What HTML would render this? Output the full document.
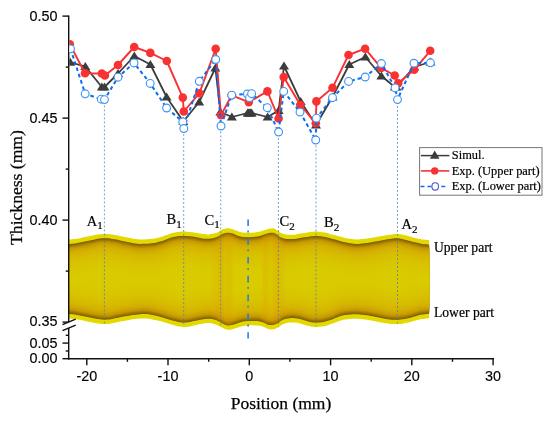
<!DOCTYPE html>
<html><head><meta charset="utf-8"><style>
html,body{margin:0;padding:0;background:#fff;width:550px;height:421px;overflow:hidden}
svg{display:block}
</style></head><body>
<svg width="550" height="421" viewBox="0 0 550 421">
<defs><clipPath id="pc"><rect x="69.3" y="0" width="430" height="358"/></clipPath><clipPath id="tc"><rect x="69.3" y="200" width="360.2" height="150"/></clipPath></defs>
<defs><path id="tt" d="M66.00,239.80 C66.67,239.75 68.50,239.62 70.00,239.50 C71.50,239.38 73.33,239.27 75.00,239.05 C76.67,238.83 78.33,238.52 80.00,238.20 C81.67,237.88 83.33,237.47 85.00,237.10 C86.67,236.73 88.33,236.35 90.00,236.00 C91.67,235.65 93.33,235.30 95.00,235.00 C96.67,234.70 98.50,234.38 100.00,234.20 C101.50,234.02 102.67,233.99 104.00,233.95 C105.33,233.91 106.67,233.86 108.00,233.95 C109.33,234.04 110.67,234.29 112.00,234.50 C113.33,234.71 114.67,234.95 116.00,235.20 C117.33,235.45 118.50,235.68 120.00,236.00 C121.50,236.32 123.33,236.75 125.00,237.10 C126.67,237.45 128.33,237.78 130.00,238.10 C131.67,238.42 133.33,238.77 135.00,239.00 C136.67,239.23 138.33,239.43 140.00,239.50 C141.67,239.57 143.33,239.47 145.00,239.40 C146.67,239.33 148.33,239.25 150.00,239.10 C151.67,238.95 153.33,238.82 155.00,238.50 C156.67,238.18 158.33,237.70 160.00,237.20 C161.67,236.70 163.33,236.08 165.00,235.50 C166.67,234.92 168.33,234.22 170.00,233.70 C171.67,233.18 173.33,232.73 175.00,232.40 C176.67,232.07 178.58,231.85 180.00,231.70 C181.42,231.55 182.33,231.50 183.50,231.50 C184.67,231.50 185.58,231.58 187.00,231.70 C188.42,231.82 190.50,232.00 192.00,232.20 C193.50,232.40 194.67,232.67 196.00,232.90 C197.33,233.13 198.50,233.37 200.00,233.60 C201.50,233.83 203.50,234.17 205.00,234.30 C206.50,234.43 207.50,234.52 209.00,234.40 C210.50,234.28 212.50,233.97 214.00,233.60 C215.50,233.23 216.92,232.70 218.00,232.20 C219.08,231.70 219.67,231.08 220.50,230.60 C221.33,230.12 222.08,229.65 223.00,229.30 C223.92,228.95 225.00,228.65 226.00,228.50 C227.00,228.35 228.00,228.33 229.00,228.40 C230.00,228.47 230.83,228.55 232.00,228.90 C233.17,229.25 234.67,229.97 236.00,230.50 C237.33,231.03 238.50,231.72 240.00,232.10 C241.50,232.48 243.33,232.68 245.00,232.80 C246.67,232.92 248.33,232.87 250.00,232.80 C251.67,232.73 253.33,232.62 255.00,232.40 C256.67,232.18 258.33,231.92 260.00,231.50 C261.67,231.08 263.67,230.33 265.00,229.90 C266.33,229.47 267.00,229.15 268.00,228.90 C269.00,228.65 270.00,228.47 271.00,228.40 C272.00,228.33 273.17,228.32 274.00,228.50 C274.83,228.68 275.33,229.07 276.00,229.50 C276.67,229.93 277.33,230.60 278.00,231.10 C278.67,231.60 279.00,232.02 280.00,232.50 C281.00,232.98 282.67,233.63 284.00,234.00 C285.33,234.37 286.67,234.58 288.00,234.70 C289.33,234.82 290.67,234.75 292.00,234.70 C293.33,234.65 294.67,234.58 296.00,234.40 C297.33,234.22 298.50,233.85 300.00,233.60 C301.50,233.35 303.33,233.17 305.00,232.90 C306.67,232.63 308.17,232.23 310.00,232.00 C311.83,231.77 314.33,231.52 316.00,231.50 C317.67,231.48 318.50,231.72 320.00,231.90 C321.50,232.08 323.33,232.27 325.00,232.60 C326.67,232.93 328.33,233.47 330.00,233.90 C331.67,234.33 333.33,234.75 335.00,235.20 C336.67,235.65 338.33,236.15 340.00,236.60 C341.67,237.05 343.33,237.53 345.00,237.90 C346.67,238.27 348.17,238.53 350.00,238.80 C351.83,239.07 354.33,239.42 356.00,239.50 C357.67,239.58 358.50,239.42 360.00,239.30 C361.50,239.18 363.33,239.00 365.00,238.80 C366.67,238.60 368.33,238.37 370.00,238.10 C371.67,237.83 373.33,237.50 375.00,237.20 C376.67,236.90 378.33,236.60 380.00,236.30 C381.67,236.00 383.33,235.67 385.00,235.40 C386.67,235.13 388.33,234.95 390.00,234.70 C391.67,234.45 393.67,234.03 395.00,233.90 C396.33,233.77 396.83,233.80 398.00,233.90 C399.17,234.00 400.67,234.23 402.00,234.50 C403.33,234.77 404.67,235.15 406.00,235.50 C407.33,235.85 408.50,236.20 410.00,236.60 C411.50,237.00 413.33,237.50 415.00,237.90 C416.67,238.30 418.33,238.68 420.00,239.00 C421.67,239.32 423.45,239.62 425.00,239.80 C426.55,239.98 428.58,240.05 429.30,240.10 L429.3,329.05 L66,329.05 Z"/><path id="bb" d="M66.00,318.30 C66.67,318.32 68.50,318.30 70.00,318.40 C71.50,318.50 73.33,318.67 75.00,318.90 C76.67,319.13 78.33,319.47 80.00,319.80 C81.67,320.13 83.33,320.53 85.00,320.90 C86.67,321.27 88.33,321.67 90.00,322.00 C91.67,322.33 93.33,322.62 95.00,322.90 C96.67,323.18 98.50,323.50 100.00,323.70 C101.50,323.90 102.67,324.05 104.00,324.10 C105.33,324.15 106.67,324.13 108.00,324.00 C109.33,323.87 110.67,323.57 112.00,323.30 C113.33,323.03 114.67,322.68 116.00,322.40 C117.33,322.12 118.50,321.88 120.00,321.60 C121.50,321.32 123.33,321.00 125.00,320.70 C126.67,320.40 128.33,320.07 130.00,319.80 C131.67,319.53 133.33,319.30 135.00,319.10 C136.67,318.90 138.50,318.72 140.00,318.60 C141.50,318.48 142.33,318.35 144.00,318.40 C145.67,318.45 148.17,318.65 150.00,318.90 C151.83,319.15 153.33,319.53 155.00,319.90 C156.67,320.27 158.33,320.65 160.00,321.10 C161.67,321.55 163.33,322.10 165.00,322.60 C166.67,323.10 168.33,323.63 170.00,324.10 C171.67,324.57 173.33,324.98 175.00,325.40 C176.67,325.82 178.50,326.33 180.00,326.60 C181.50,326.87 182.67,326.98 184.00,327.00 C185.33,327.02 186.33,326.95 188.00,326.70 C189.67,326.45 192.00,325.93 194.00,325.50 C196.00,325.07 197.83,324.50 200.00,324.10 C202.17,323.70 205.00,323.22 207.00,323.10 C209.00,322.98 210.50,323.18 212.00,323.40 C213.50,323.62 214.83,323.98 216.00,324.40 C217.17,324.82 218.00,325.37 219.00,325.90 C220.00,326.43 221.00,327.07 222.00,327.60 C223.00,328.13 224.00,328.73 225.00,329.10 C226.00,329.47 226.83,329.75 228.00,329.80 C229.17,329.85 230.67,329.68 232.00,329.40 C233.33,329.12 234.33,328.63 236.00,328.10 C237.67,327.57 240.00,326.65 242.00,326.20 C244.00,325.75 245.83,325.53 248.00,325.40 C250.17,325.27 253.00,325.33 255.00,325.40 C257.00,325.47 258.50,325.52 260.00,325.80 C261.50,326.08 262.67,326.55 264.00,327.10 C265.33,327.65 266.67,328.70 268.00,329.10 C269.33,329.50 270.83,329.52 272.00,329.50 C273.17,329.48 274.00,329.33 275.00,329.00 C276.00,328.67 277.00,328.13 278.00,327.50 C279.00,326.87 279.83,325.88 281.00,325.20 C282.17,324.52 283.50,323.83 285.00,323.40 C286.50,322.97 288.33,322.73 290.00,322.60 C291.67,322.47 293.33,322.45 295.00,322.60 C296.67,322.75 298.33,323.10 300.00,323.50 C301.67,323.90 303.33,324.53 305.00,325.00 C306.67,325.47 308.17,325.97 310.00,326.30 C311.83,326.63 314.00,326.95 316.00,327.00 C318.00,327.05 320.17,326.87 322.00,326.60 C323.83,326.33 325.33,325.87 327.00,325.40 C328.67,324.93 330.50,324.33 332.00,323.80 C333.50,323.27 334.67,322.72 336.00,322.20 C337.33,321.68 338.50,321.15 340.00,320.70 C341.50,320.25 343.33,319.80 345.00,319.50 C346.67,319.20 348.33,319.03 350.00,318.90 C351.67,318.77 353.33,318.70 355.00,318.70 C356.67,318.70 358.33,318.77 360.00,318.90 C361.67,319.03 363.33,319.28 365.00,319.50 C366.67,319.72 368.33,319.92 370.00,320.20 C371.67,320.48 373.33,320.87 375.00,321.20 C376.67,321.53 378.33,321.88 380.00,322.20 C381.67,322.52 383.33,322.83 385.00,323.10 C386.67,323.37 388.33,323.63 390.00,323.80 C391.67,323.97 393.50,324.05 395.00,324.10 C396.50,324.15 397.83,324.17 399.00,324.10 C400.17,324.03 400.67,323.92 402.00,323.70 C403.33,323.48 405.33,323.15 407.00,322.80 C408.67,322.45 410.33,322.05 412.00,321.60 C413.67,321.15 415.33,320.53 417.00,320.10 C418.67,319.67 420.33,319.28 422.00,319.00 C423.67,318.72 425.78,318.53 427.00,318.40 C428.22,318.27 428.92,318.23 429.30,318.20 L429.3,229.05 L66,229.05 Z"/><clipPath id="cu"><rect x="69.3" y="200" width="360.0" height="79.05000000000001"/></clipPath><clipPath id="cl"><rect x="69.3" y="279.05" width="360.0" height="70.94999999999999"/></clipPath></defs>
<g clip-path="url(#cu)"><use href="#tt" fill="#e3d800"/>
<use href="#tt" fill="#7d5f05" transform="translate(0 4.40)"/>
<use href="#tt" fill="#876503" transform="translate(0 4.90)"/>
<use href="#tt" fill="#906c01" transform="translate(0 5.40)"/>
<use href="#tt" fill="#9a7300" transform="translate(0 5.90)"/>
<use href="#tt" fill="#a37a00" transform="translate(0 6.40)"/>
<use href="#tt" fill="#ac8200" transform="translate(0 6.90)"/>
<use href="#tt" fill="#b48900" transform="translate(0 7.40)"/>
<use href="#tt" fill="#bb9100" transform="translate(0 7.90)"/>
<use href="#tt" fill="#c39800" transform="translate(0 8.40)"/>
<use href="#tt" fill="#c69b00" transform="translate(0 8.90)"/>
<use href="#tt" fill="#c89e00" transform="translate(0 9.40)"/>
<use href="#tt" fill="#cda500" transform="translate(0 10.40)"/>
<use href="#tt" fill="#d1aa00" transform="translate(0 11.40)"/>
<use href="#tt" fill="#d2ad00" transform="translate(0 12.40)"/>
<use href="#tt" fill="#d4b100" transform="translate(0 13.40)"/>
<use href="#tt" fill="#d5b400" transform="translate(0 14.40)"/>
<use href="#tt" fill="#d5b600" transform="translate(0 15.40)"/>
<use href="#tt" fill="#d6b800" transform="translate(0 16.40)"/>
<use href="#tt" fill="#d7bc00" transform="translate(0 18.40)"/>
<use href="#tt" fill="#d7bf00" transform="translate(0 20.40)"/>
<use href="#tt" fill="#d7c100" transform="translate(0 22.40)"/>
<use href="#tt" fill="#d8c300" transform="translate(0 24.40)"/>
<use href="#tt" fill="#d8c500" transform="translate(0 26.40)"/>
<use href="#tt" fill="#d8c600" transform="translate(0 28.40)"/>
<use href="#tt" fill="#d8c700" transform="translate(0 30.40)"/>
<use href="#tt" fill="#d9c900" transform="translate(0 32.40)"/>
<use href="#tt" fill="#d9ca00" transform="translate(0 34.40)"/>
<use href="#tt" fill="#d9cb00" transform="translate(0 36.40)"/>
<use href="#tt" fill="#d9cb00" transform="translate(0 38.40)"/>
<use href="#tt" fill="#d9cb00" transform="translate(0 40.40)"/>
<use href="#tt" fill="#d9cb00" transform="translate(0 42.40)"/>
</g>
<g clip-path="url(#cl)"><use href="#bb" fill="#e3d800"/>
<use href="#bb" fill="#7d5f05" transform="translate(0 -4.40)"/>
<use href="#bb" fill="#876503" transform="translate(0 -4.90)"/>
<use href="#bb" fill="#906c01" transform="translate(0 -5.40)"/>
<use href="#bb" fill="#9a7300" transform="translate(0 -5.90)"/>
<use href="#bb" fill="#a37a00" transform="translate(0 -6.40)"/>
<use href="#bb" fill="#ac8200" transform="translate(0 -6.90)"/>
<use href="#bb" fill="#b48900" transform="translate(0 -7.40)"/>
<use href="#bb" fill="#bb9100" transform="translate(0 -7.90)"/>
<use href="#bb" fill="#c39800" transform="translate(0 -8.40)"/>
<use href="#bb" fill="#c69b00" transform="translate(0 -8.90)"/>
<use href="#bb" fill="#c89e00" transform="translate(0 -9.40)"/>
<use href="#bb" fill="#cda500" transform="translate(0 -10.40)"/>
<use href="#bb" fill="#d1aa00" transform="translate(0 -11.40)"/>
<use href="#bb" fill="#d2ad00" transform="translate(0 -12.40)"/>
<use href="#bb" fill="#d4b100" transform="translate(0 -13.40)"/>
<use href="#bb" fill="#d5b400" transform="translate(0 -14.40)"/>
<use href="#bb" fill="#d5b600" transform="translate(0 -15.40)"/>
<use href="#bb" fill="#d6b800" transform="translate(0 -16.40)"/>
<use href="#bb" fill="#d7bc00" transform="translate(0 -18.40)"/>
<use href="#bb" fill="#d7bf00" transform="translate(0 -20.40)"/>
<use href="#bb" fill="#d7c100" transform="translate(0 -22.40)"/>
<use href="#bb" fill="#d8c300" transform="translate(0 -24.40)"/>
<use href="#bb" fill="#d8c500" transform="translate(0 -26.40)"/>
<use href="#bb" fill="#d8c600" transform="translate(0 -28.40)"/>
<use href="#bb" fill="#d8c700" transform="translate(0 -30.40)"/>
<use href="#bb" fill="#d9c900" transform="translate(0 -32.40)"/>
<use href="#bb" fill="#d9ca00" transform="translate(0 -34.40)"/>
<use href="#bb" fill="#d9cb00" transform="translate(0 -36.40)"/>
<use href="#bb" fill="#d9cb00" transform="translate(0 -38.40)"/>
<use href="#bb" fill="#d9cb00" transform="translate(0 -40.40)"/>
<use href="#bb" fill="#d9cb00" transform="translate(0 -42.40)"/>
</g>
<defs><clipPath id="ci"><path d="M66.00,244.20 C66.67,244.15 68.50,244.03 70.00,243.90 C71.50,243.78 73.33,243.67 75.00,243.45 C76.67,243.23 78.33,242.93 80.00,242.60 C81.67,242.27 83.33,241.87 85.00,241.50 C86.67,241.13 88.33,240.75 90.00,240.40 C91.67,240.05 93.33,239.70 95.00,239.40 C96.67,239.10 98.50,238.78 100.00,238.60 C101.50,238.42 102.67,238.39 104.00,238.35 C105.33,238.31 106.67,238.26 108.00,238.35 C109.33,238.44 110.67,238.69 112.00,238.90 C113.33,239.11 114.67,239.35 116.00,239.60 C117.33,239.85 118.50,240.08 120.00,240.40 C121.50,240.72 123.33,241.15 125.00,241.50 C126.67,241.85 128.33,242.18 130.00,242.50 C131.67,242.82 133.33,243.17 135.00,243.40 C136.67,243.63 138.33,243.83 140.00,243.90 C141.67,243.97 143.33,243.87 145.00,243.80 C146.67,243.73 148.33,243.65 150.00,243.50 C151.67,243.35 153.33,243.22 155.00,242.90 C156.67,242.58 158.33,242.10 160.00,241.60 C161.67,241.10 163.33,240.48 165.00,239.90 C166.67,239.32 168.33,238.62 170.00,238.10 C171.67,237.58 173.33,237.13 175.00,236.80 C176.67,236.47 178.58,236.25 180.00,236.10 C181.42,235.95 182.33,235.90 183.50,235.90 C184.67,235.90 185.58,235.98 187.00,236.10 C188.42,236.22 190.50,236.40 192.00,236.60 C193.50,236.80 194.67,237.07 196.00,237.30 C197.33,237.53 198.50,237.77 200.00,238.00 C201.50,238.23 203.50,238.57 205.00,238.70 C206.50,238.83 207.50,238.92 209.00,238.80 C210.50,238.68 212.50,238.37 214.00,238.00 C215.50,237.63 216.92,237.10 218.00,236.60 C219.08,236.10 219.67,235.48 220.50,235.00 C221.33,234.52 222.08,234.05 223.00,233.70 C223.92,233.35 225.00,233.05 226.00,232.90 C227.00,232.75 228.00,232.73 229.00,232.80 C230.00,232.87 230.83,232.95 232.00,233.30 C233.17,233.65 234.67,234.37 236.00,234.90 C237.33,235.43 238.50,236.12 240.00,236.50 C241.50,236.88 243.33,237.08 245.00,237.20 C246.67,237.32 248.33,237.27 250.00,237.20 C251.67,237.13 253.33,237.02 255.00,236.80 C256.67,236.58 258.33,236.32 260.00,235.90 C261.67,235.48 263.67,234.73 265.00,234.30 C266.33,233.87 267.00,233.55 268.00,233.30 C269.00,233.05 270.00,232.87 271.00,232.80 C272.00,232.73 273.17,232.72 274.00,232.90 C274.83,233.08 275.33,233.47 276.00,233.90 C276.67,234.33 277.33,235.00 278.00,235.50 C278.67,236.00 279.00,236.42 280.00,236.90 C281.00,237.38 282.67,238.03 284.00,238.40 C285.33,238.77 286.67,238.98 288.00,239.10 C289.33,239.22 290.67,239.15 292.00,239.10 C293.33,239.05 294.67,238.98 296.00,238.80 C297.33,238.62 298.50,238.25 300.00,238.00 C301.50,237.75 303.33,237.57 305.00,237.30 C306.67,237.03 308.17,236.63 310.00,236.40 C311.83,236.17 314.33,235.92 316.00,235.90 C317.67,235.88 318.50,236.12 320.00,236.30 C321.50,236.48 323.33,236.67 325.00,237.00 C326.67,237.33 328.33,237.87 330.00,238.30 C331.67,238.73 333.33,239.15 335.00,239.60 C336.67,240.05 338.33,240.55 340.00,241.00 C341.67,241.45 343.33,241.93 345.00,242.30 C346.67,242.67 348.17,242.93 350.00,243.20 C351.83,243.47 354.33,243.82 356.00,243.90 C357.67,243.98 358.50,243.82 360.00,243.70 C361.50,243.58 363.33,243.40 365.00,243.20 C366.67,243.00 368.33,242.77 370.00,242.50 C371.67,242.23 373.33,241.90 375.00,241.60 C376.67,241.30 378.33,241.00 380.00,240.70 C381.67,240.40 383.33,240.07 385.00,239.80 C386.67,239.53 388.33,239.35 390.00,239.10 C391.67,238.85 393.67,238.43 395.00,238.30 C396.33,238.17 396.83,238.20 398.00,238.30 C399.17,238.40 400.67,238.63 402.00,238.90 C403.33,239.17 404.67,239.55 406.00,239.90 C407.33,240.25 408.50,240.60 410.00,241.00 C411.50,241.40 413.33,241.90 415.00,242.30 C416.67,242.70 418.33,243.08 420.00,243.40 C421.67,243.72 423.45,244.02 425.00,244.20 C426.55,244.38 428.58,244.45 429.30,244.50 L429.30,313.80 C428.92,313.83 428.22,313.87 427.00,314.00 C425.78,314.13 423.67,314.32 422.00,314.60 C420.33,314.88 418.67,315.27 417.00,315.70 C415.33,316.13 413.67,316.75 412.00,317.20 C410.33,317.65 408.67,318.05 407.00,318.40 C405.33,318.75 403.33,319.08 402.00,319.30 C400.67,319.52 400.17,319.63 399.00,319.70 C397.83,319.77 396.50,319.75 395.00,319.70 C393.50,319.65 391.67,319.57 390.00,319.40 C388.33,319.23 386.67,318.97 385.00,318.70 C383.33,318.43 381.67,318.12 380.00,317.80 C378.33,317.48 376.67,317.13 375.00,316.80 C373.33,316.47 371.67,316.08 370.00,315.80 C368.33,315.52 366.67,315.32 365.00,315.10 C363.33,314.88 361.67,314.63 360.00,314.50 C358.33,314.37 356.67,314.30 355.00,314.30 C353.33,314.30 351.67,314.37 350.00,314.50 C348.33,314.63 346.67,314.80 345.00,315.10 C343.33,315.40 341.50,315.85 340.00,316.30 C338.50,316.75 337.33,317.28 336.00,317.80 C334.67,318.32 333.50,318.87 332.00,319.40 C330.50,319.93 328.67,320.53 327.00,321.00 C325.33,321.47 323.83,321.93 322.00,322.20 C320.17,322.47 318.00,322.65 316.00,322.60 C314.00,322.55 311.83,322.23 310.00,321.90 C308.17,321.57 306.67,321.07 305.00,320.60 C303.33,320.13 301.67,319.50 300.00,319.10 C298.33,318.70 296.67,318.35 295.00,318.20 C293.33,318.05 291.67,318.07 290.00,318.20 C288.33,318.33 286.50,318.57 285.00,319.00 C283.50,319.43 282.17,320.12 281.00,320.80 C279.83,321.48 279.00,322.47 278.00,323.10 C277.00,323.73 276.00,324.27 275.00,324.60 C274.00,324.93 273.17,325.08 272.00,325.10 C270.83,325.12 269.33,325.10 268.00,324.70 C266.67,324.30 265.33,323.25 264.00,322.70 C262.67,322.15 261.50,321.68 260.00,321.40 C258.50,321.12 257.00,321.07 255.00,321.00 C253.00,320.93 250.17,320.87 248.00,321.00 C245.83,321.13 244.00,321.35 242.00,321.80 C240.00,322.25 237.67,323.17 236.00,323.70 C234.33,324.23 233.33,324.72 232.00,325.00 C230.67,325.28 229.17,325.45 228.00,325.40 C226.83,325.35 226.00,325.07 225.00,324.70 C224.00,324.33 223.00,323.73 222.00,323.20 C221.00,322.67 220.00,322.03 219.00,321.50 C218.00,320.97 217.17,320.42 216.00,320.00 C214.83,319.58 213.50,319.22 212.00,319.00 C210.50,318.78 209.00,318.58 207.00,318.70 C205.00,318.82 202.17,319.30 200.00,319.70 C197.83,320.10 196.00,320.67 194.00,321.10 C192.00,321.53 189.67,322.05 188.00,322.30 C186.33,322.55 185.33,322.62 184.00,322.60 C182.67,322.58 181.50,322.47 180.00,322.20 C178.50,321.93 176.67,321.42 175.00,321.00 C173.33,320.58 171.67,320.17 170.00,319.70 C168.33,319.23 166.67,318.70 165.00,318.20 C163.33,317.70 161.67,317.15 160.00,316.70 C158.33,316.25 156.67,315.87 155.00,315.50 C153.33,315.13 151.83,314.75 150.00,314.50 C148.17,314.25 145.67,314.05 144.00,314.00 C142.33,313.95 141.50,314.08 140.00,314.20 C138.50,314.32 136.67,314.50 135.00,314.70 C133.33,314.90 131.67,315.13 130.00,315.40 C128.33,315.67 126.67,316.00 125.00,316.30 C123.33,316.60 121.50,316.92 120.00,317.20 C118.50,317.48 117.33,317.72 116.00,318.00 C114.67,318.28 113.33,318.63 112.00,318.90 C110.67,319.17 109.33,319.47 108.00,319.60 C106.67,319.73 105.33,319.75 104.00,319.70 C102.67,319.65 101.50,319.50 100.00,319.30 C98.50,319.10 96.67,318.78 95.00,318.50 C93.33,318.22 91.67,317.93 90.00,317.60 C88.33,317.27 86.67,316.87 85.00,316.50 C83.33,316.13 81.67,315.73 80.00,315.40 C78.33,315.07 76.67,314.73 75.00,314.50 C73.33,314.27 71.50,314.10 70.00,314.00 C68.50,313.90 66.67,313.92 66.00,313.90 Z"/></clipPath><linearGradient id="bandg" x1="200" x2="300" y1="0" y2="0" gradientUnits="userSpaceOnUse"><stop offset="0.0900" stop-color="#e08a00" stop-opacity="0"/><stop offset="0.1400" stop-color="#e08a00" stop-opacity="0.08"/><stop offset="0.1800" stop-color="#e08a00" stop-opacity="0.2"/><stop offset="0.2050" stop-color="#e08a00" stop-opacity="0.25"/><stop offset="0.2300" stop-color="#e08a00" stop-opacity="0.2"/><stop offset="0.2500" stop-color="#e08a00" stop-opacity="0.1"/><stop offset="0.2700" stop-color="#e08a00" stop-opacity="0.16"/><stop offset="0.2950" stop-color="#e08a00" stop-opacity="0.2"/><stop offset="0.3200" stop-color="#e08a00" stop-opacity="0.1"/><stop offset="0.3500" stop-color="#e08a00" stop-opacity="0"/><stop offset="0.6100" stop-color="#e08a00" stop-opacity="0"/><stop offset="0.6350" stop-color="#e08a00" stop-opacity="0.15"/><stop offset="0.6600" stop-color="#e08a00" stop-opacity="0.2"/><stop offset="0.6850" stop-color="#e08a00" stop-opacity="0.12"/><stop offset="0.7050" stop-color="#e08a00" stop-opacity="0.05"/><stop offset="0.7300" stop-color="#e08a00" stop-opacity="0.15"/><stop offset="0.7550" stop-color="#e08a00" stop-opacity="0.22"/><stop offset="0.7800" stop-color="#e08a00" stop-opacity="0.25"/><stop offset="0.8050" stop-color="#e08a00" stop-opacity="0.18"/><stop offset="0.8400" stop-color="#e08a00" stop-opacity="0.08"/><stop offset="0.8800" stop-color="#e08a00" stop-opacity="0"/></linearGradient></defs>
<rect x="200" y="220" width="100" height="120" fill="url(#bandg)" clip-path="url(#ci)"/>
<line x1="104.4" y1="105.5" x2="104.4" y2="323.4" stroke="#3a7fd0" stroke-opacity="0.78" stroke-width="1.0" stroke-dasharray="1.8 2.2"/>
<line x1="183.7" y1="134" x2="183.7" y2="326.3" stroke="#3a7fd0" stroke-opacity="0.78" stroke-width="1.0" stroke-dasharray="1.8 2.2"/>
<line x1="220.7" y1="131.5" x2="220.7" y2="326.2" stroke="#3a7fd0" stroke-opacity="0.78" stroke-width="1.0" stroke-dasharray="1.8 2.2"/>
<line x1="278.4" y1="138" x2="278.4" y2="326.5" stroke="#3a7fd0" stroke-opacity="0.78" stroke-width="1.0" stroke-dasharray="1.8 2.2"/>
<line x1="316.0" y1="145.5" x2="316.0" y2="326.3" stroke="#3a7fd0" stroke-opacity="0.78" stroke-width="1.0" stroke-dasharray="1.8 2.2"/>
<line x1="397.5" y1="106" x2="397.5" y2="323.4" stroke="#3a7fd0" stroke-opacity="0.78" stroke-width="1.0" stroke-dasharray="1.8 2.2"/>
<line x1="248.1" y1="219.4" x2="248.1" y2="338.4" stroke="#2a7fd8" stroke-width="1.6" stroke-dasharray="6.6 4.6 1.8 5.8"/>
<g stroke="#111" stroke-width="1.4" fill="none">
<line x1="68.7" y1="15.4" x2="68.7" y2="322"/>
<line x1="68.7" y1="328.1" x2="68.7" y2="359.4"/>
<line x1="68.0" y1="358.7" x2="494" y2="358.7"/>
<line x1="62.5" y1="16.1" x2="68.7" y2="16.1"/>
<line x1="62.5" y1="118.1" x2="68.7" y2="118.1"/>
<line x1="62.5" y1="220.1" x2="68.7" y2="220.1"/>
<line x1="62.5" y1="322.1" x2="68.7" y2="322.1"/>
<line x1="62.5" y1="343.1" x2="68.7" y2="343.1"/>
<line x1="62.5" y1="358.7" x2="68.7" y2="358.7"/>
<line x1="65.7" y1="67.1" x2="68.7" y2="67.1"/>
<line x1="65.7" y1="169.1" x2="68.7" y2="169.1"/>
<line x1="65.7" y1="271.1" x2="68.7" y2="271.1"/>
<line x1="65.7" y1="335.3" x2="68.7" y2="335.3"/>
<line x1="65.7" y1="351.0" x2="68.7" y2="351.0"/>
<line x1="86.8" y1="358.7" x2="86.8" y2="365.3"/>
<line x1="168.0" y1="358.7" x2="168.0" y2="365.3"/>
<line x1="249.3" y1="358.7" x2="249.3" y2="365.3"/>
<line x1="330.6" y1="358.7" x2="330.6" y2="365.3"/>
<line x1="411.8" y1="358.7" x2="411.8" y2="365.3"/>
<line x1="493.1" y1="358.7" x2="493.1" y2="365.3"/>
<line x1="127.4" y1="358.7" x2="127.4" y2="361.8"/>
<line x1="208.7" y1="358.7" x2="208.7" y2="361.8"/>
<line x1="289.9" y1="358.7" x2="289.9" y2="361.8"/>
<line x1="371.2" y1="358.7" x2="371.2" y2="361.8"/>
<line x1="452.5" y1="358.7" x2="452.5" y2="361.8"/>
<line x1="62.5" y1="324.6" x2="75.7" y2="319.1"/>
<line x1="62.5" y1="330.7" x2="75.7" y2="325.1"/>
</g>
<g clip-path="url(#pc)">
<polyline points="70.3,62.3 85.3,66.5 101.8,87.0 104.5,87.0 118.0,73.5 134.3,56.0 150.4,64.5 166.6,97.0 183.3,121.5 199.2,102.0 215.4,68.0 220.4,112.0 231.9,117.0 247.6,113.0 248.6,113.0 249.6,113.0 250.6,113.0 251.6,113.0 267.6,117.0 278.6,110.5 284.0,66.0 300.7,101.5 316.0,125.0 332.5,97.0 349.3,64.5 365.4,57.0 381.4,76.0 394.8,87.0 396.5,87.0 414.2,67.0 430.4,62.0" fill="none" stroke="#3c3c3c" stroke-width="1.8" stroke-linejoin="round"/>
<polygon points="70.3,57.7 65.3,65.7 75.3,65.7" fill="#3c3c3c"/>
<polygon points="85.3,61.9 80.3,69.9 90.3,69.9" fill="#3c3c3c"/>
<polygon points="101.8,82.4 96.8,90.4 106.8,90.4" fill="#3c3c3c"/>
<polygon points="104.5,82.4 99.5,90.4 109.5,90.4" fill="#3c3c3c"/>
<polygon points="118.0,68.9 113.0,76.9 123.0,76.9" fill="#3c3c3c"/>
<polygon points="134.3,51.4 129.3,59.4 139.3,59.4" fill="#3c3c3c"/>
<polygon points="150.4,59.9 145.4,67.9 155.4,67.9" fill="#3c3c3c"/>
<polygon points="166.6,92.4 161.6,100.4 171.6,100.4" fill="#3c3c3c"/>
<polygon points="183.3,116.9 178.3,124.9 188.3,124.9" fill="#3c3c3c"/>
<polygon points="199.2,97.4 194.2,105.4 204.2,105.4" fill="#3c3c3c"/>
<polygon points="215.4,63.4 210.4,71.4 220.4,71.4" fill="#3c3c3c"/>
<polygon points="220.4,107.4 215.4,115.4 225.4,115.4" fill="#3c3c3c"/>
<polygon points="231.9,112.4 226.9,120.4 236.9,120.4" fill="#3c3c3c"/>
<polygon points="247.6,108.4 242.6,116.4 252.6,116.4" fill="#3c3c3c"/>
<polygon points="248.6,108.4 243.6,116.4 253.6,116.4" fill="#3c3c3c"/>
<polygon points="249.6,108.4 244.6,116.4 254.6,116.4" fill="#3c3c3c"/>
<polygon points="250.6,108.4 245.6,116.4 255.6,116.4" fill="#3c3c3c"/>
<polygon points="251.6,108.4 246.6,116.4 256.6,116.4" fill="#3c3c3c"/>
<polygon points="267.6,112.4 262.6,120.4 272.6,120.4" fill="#3c3c3c"/>
<polygon points="278.6,105.9 273.6,113.9 283.6,113.9" fill="#3c3c3c"/>
<polygon points="284.0,61.4 279.0,69.4 289.0,69.4" fill="#3c3c3c"/>
<polygon points="300.7,96.9 295.7,104.9 305.7,104.9" fill="#3c3c3c"/>
<polygon points="316.0,120.4 311.0,128.4 321.0,128.4" fill="#3c3c3c"/>
<polygon points="332.5,92.4 327.5,100.4 337.5,100.4" fill="#3c3c3c"/>
<polygon points="349.3,59.9 344.3,67.9 354.3,67.9" fill="#3c3c3c"/>
<polygon points="365.4,52.4 360.4,60.4 370.4,60.4" fill="#3c3c3c"/>
<polygon points="381.4,71.4 376.4,79.4 386.4,79.4" fill="#3c3c3c"/>
<polygon points="394.8,82.4 389.8,90.4 399.8,90.4" fill="#3c3c3c"/>
<polygon points="396.5,82.4 391.5,90.4 401.5,90.4" fill="#3c3c3c"/>
<polygon points="414.2,62.4 409.2,70.4 419.2,70.4" fill="#3c3c3c"/>
<polygon points="430.4,57.4 425.4,65.4 435.4,65.4" fill="#3c3c3c"/>
<polyline points="69.8,44.3 85.0,73.2 101.8,73.5 104.9,75.5 118.0,65.0 134.2,47.0 150.3,52.9 166.8,61.0 182.8,97.6 183.8,111.5 199.3,93.3 215.7,48.8 221.0,115.3 231.7,95.3 248.8,102.1 267.4,91.4 278.6,118.5 283.7,77.1 300.4,105.0 315.8,123.3 316.4,101.4 332.5,87.8 348.5,55.0 365.1,48.7 381.1,67.9 394.7,75.5 398.2,83.2 414.2,69.8 430.2,50.8" fill="none" stroke="#f83232" stroke-width="1.9" stroke-linejoin="round"/>
<circle cx="69.8" cy="44.3" r="4.3" fill="#f83232"/>
<circle cx="85.0" cy="73.2" r="4.3" fill="#f83232"/>
<circle cx="101.8" cy="73.5" r="4.3" fill="#f83232"/>
<circle cx="104.9" cy="75.5" r="4.3" fill="#f83232"/>
<circle cx="118.0" cy="65.0" r="4.3" fill="#f83232"/>
<circle cx="134.2" cy="47.0" r="4.3" fill="#f83232"/>
<circle cx="150.3" cy="52.9" r="4.3" fill="#f83232"/>
<circle cx="166.8" cy="61.0" r="4.3" fill="#f83232"/>
<circle cx="182.8" cy="97.6" r="4.3" fill="#f83232"/>
<circle cx="183.8" cy="111.5" r="4.3" fill="#f83232"/>
<circle cx="199.3" cy="93.3" r="4.3" fill="#f83232"/>
<circle cx="215.7" cy="48.8" r="4.3" fill="#f83232"/>
<circle cx="221.0" cy="115.3" r="4.3" fill="#f83232"/>
<circle cx="231.7" cy="95.3" r="4.3" fill="#f83232"/>
<circle cx="248.8" cy="102.1" r="4.3" fill="#f83232"/>
<circle cx="267.4" cy="91.4" r="4.3" fill="#f83232"/>
<circle cx="278.6" cy="118.5" r="4.3" fill="#f83232"/>
<circle cx="283.7" cy="77.1" r="4.3" fill="#f83232"/>
<circle cx="300.4" cy="105.0" r="4.3" fill="#f83232"/>
<circle cx="315.8" cy="123.3" r="4.3" fill="#f83232"/>
<circle cx="316.4" cy="101.4" r="4.3" fill="#f83232"/>
<circle cx="332.5" cy="87.8" r="4.3" fill="#f83232"/>
<circle cx="348.5" cy="55.0" r="4.3" fill="#f83232"/>
<circle cx="365.1" cy="48.7" r="4.3" fill="#f83232"/>
<circle cx="381.1" cy="67.9" r="4.3" fill="#f83232"/>
<circle cx="394.7" cy="75.5" r="4.3" fill="#f83232"/>
<circle cx="398.2" cy="83.2" r="4.3" fill="#f83232"/>
<circle cx="414.2" cy="69.8" r="4.3" fill="#f83232"/>
<circle cx="430.2" cy="50.8" r="4.3" fill="#f83232"/>
<polyline points="70.5,48.8 85.2,93.8 101.3,99.2 104.5,99.6 118.0,77.2 134.0,62.9 150.2,83.4 166.6,108.0 182.8,121.9 183.8,128.5 199.3,81.3 215.7,59.5 221.0,126.0 231.7,95.1 247.4,94.0 249.5,97.7 251.6,93.7 267.3,107.7 278.6,132.0 283.7,91.4 300.0,112.1 315.7,140.0 316.4,118.2 332.5,97.7 348.6,81.4 365.2,77.0 381.4,63.6 395.1,87.9 397.5,99.6 414.0,63.2 430.4,62.8" fill="none" stroke="#0a6cf0" stroke-width="2" stroke-dasharray="3.6 3" stroke-linejoin="round"/>
<circle cx="70.5" cy="48.8" r="3.9" fill="#fff" stroke="#3d95f5" stroke-width="1.15"/>
<circle cx="85.2" cy="93.8" r="3.9" fill="#fff" stroke="#3d95f5" stroke-width="1.15"/>
<circle cx="101.3" cy="99.2" r="3.9" fill="#fff" stroke="#3d95f5" stroke-width="1.15"/>
<circle cx="104.5" cy="99.6" r="3.9" fill="#fff" stroke="#3d95f5" stroke-width="1.15"/>
<circle cx="118.0" cy="77.2" r="3.9" fill="#fff" stroke="#3d95f5" stroke-width="1.15"/>
<circle cx="134.0" cy="62.9" r="3.9" fill="#fff" stroke="#3d95f5" stroke-width="1.15"/>
<circle cx="150.2" cy="83.4" r="3.9" fill="#fff" stroke="#3d95f5" stroke-width="1.15"/>
<circle cx="166.6" cy="108.0" r="3.9" fill="#fff" stroke="#3d95f5" stroke-width="1.15"/>
<circle cx="182.8" cy="121.9" r="3.9" fill="#fff" stroke="#3d95f5" stroke-width="1.15"/>
<circle cx="183.8" cy="128.5" r="3.9" fill="#fff" stroke="#3d95f5" stroke-width="1.15"/>
<circle cx="199.3" cy="81.3" r="3.9" fill="#fff" stroke="#3d95f5" stroke-width="1.15"/>
<circle cx="215.7" cy="59.5" r="3.9" fill="#fff" stroke="#3d95f5" stroke-width="1.15"/>
<circle cx="221.0" cy="126.0" r="3.9" fill="#fff" stroke="#3d95f5" stroke-width="1.15"/>
<circle cx="231.7" cy="95.1" r="3.9" fill="#fff" stroke="#3d95f5" stroke-width="1.15"/>
<circle cx="247.4" cy="94.0" r="3.9" fill="#fff" stroke="#3d95f5" stroke-width="1.15"/>
<circle cx="249.5" cy="97.7" r="3.9" fill="#fff" stroke="#3d95f5" stroke-width="1.15"/>
<circle cx="251.6" cy="93.7" r="3.9" fill="#fff" stroke="#3d95f5" stroke-width="1.15"/>
<circle cx="267.3" cy="107.7" r="3.9" fill="#fff" stroke="#3d95f5" stroke-width="1.15"/>
<circle cx="278.6" cy="132.0" r="3.9" fill="#fff" stroke="#3d95f5" stroke-width="1.15"/>
<circle cx="283.7" cy="91.4" r="3.9" fill="#fff" stroke="#3d95f5" stroke-width="1.15"/>
<circle cx="300.0" cy="112.1" r="3.9" fill="#fff" stroke="#3d95f5" stroke-width="1.15"/>
<circle cx="315.7" cy="140.0" r="3.9" fill="#fff" stroke="#3d95f5" stroke-width="1.15"/>
<circle cx="316.4" cy="118.2" r="3.9" fill="#fff" stroke="#3d95f5" stroke-width="1.15"/>
<circle cx="332.5" cy="97.7" r="3.9" fill="#fff" stroke="#3d95f5" stroke-width="1.15"/>
<circle cx="348.6" cy="81.4" r="3.9" fill="#fff" stroke="#3d95f5" stroke-width="1.15"/>
<circle cx="365.2" cy="77.0" r="3.9" fill="#fff" stroke="#3d95f5" stroke-width="1.15"/>
<circle cx="381.4" cy="63.6" r="3.9" fill="#fff" stroke="#3d95f5" stroke-width="1.15"/>
<circle cx="395.1" cy="87.9" r="3.9" fill="#fff" stroke="#3d95f5" stroke-width="1.15"/>
<circle cx="397.5" cy="99.6" r="3.9" fill="#fff" stroke="#3d95f5" stroke-width="1.15"/>
<circle cx="414.0" cy="63.2" r="3.9" fill="#fff" stroke="#3d95f5" stroke-width="1.15"/>
<circle cx="430.4" cy="62.8" r="3.9" fill="#fff" stroke="#3d95f5" stroke-width="1.15"/>
</g>
<text transform="translate(57.4 20.7) scale(0.96 1.02)" text-anchor="end" style="font-family:'Liberation Sans',Arial,sans-serif;font-size:15px" fill="#000" stroke="#000" stroke-width="0.15">0.50</text>
<text transform="translate(57.4 122.7) scale(0.96 1.02)" text-anchor="end" style="font-family:'Liberation Sans',Arial,sans-serif;font-size:15px" fill="#000" stroke="#000" stroke-width="0.15">0.45</text>
<text transform="translate(57.4 224.7) scale(0.96 1.02)" text-anchor="end" style="font-family:'Liberation Sans',Arial,sans-serif;font-size:15px" fill="#000" stroke="#000" stroke-width="0.15">0.40</text>
<text transform="translate(57.4 326.2) scale(0.96 1.02)" text-anchor="end" style="font-family:'Liberation Sans',Arial,sans-serif;font-size:15px" fill="#000" stroke="#000" stroke-width="0.15">0.35</text>
<text transform="translate(57.4 347.6) scale(0.96 1.02)" text-anchor="end" style="font-family:'Liberation Sans',Arial,sans-serif;font-size:15px" fill="#000" stroke="#000" stroke-width="0.15">0.05</text>
<text transform="translate(57.4 362.8) scale(0.96 1.02)" text-anchor="end" style="font-family:'Liberation Sans',Arial,sans-serif;font-size:15px" fill="#000" stroke="#000" stroke-width="0.15">0.00</text>
<text transform="translate(86.8 381.2) scale(0.96 1.02)" text-anchor="middle" style="font-family:'Liberation Sans',Arial,sans-serif;font-size:15px" fill="#000" stroke="#000" stroke-width="0.15">-20</text>
<text transform="translate(168.0 381.2) scale(0.96 1.02)" text-anchor="middle" style="font-family:'Liberation Sans',Arial,sans-serif;font-size:15px" fill="#000" stroke="#000" stroke-width="0.15">-10</text>
<text transform="translate(249.3 381.2) scale(0.96 1.02)" text-anchor="middle" style="font-family:'Liberation Sans',Arial,sans-serif;font-size:15px" fill="#000" stroke="#000" stroke-width="0.15">0</text>
<text transform="translate(330.6 381.2) scale(0.96 1.02)" text-anchor="middle" style="font-family:'Liberation Sans',Arial,sans-serif;font-size:15px" fill="#000" stroke="#000" stroke-width="0.15">10</text>
<text transform="translate(411.8 381.2) scale(0.96 1.02)" text-anchor="middle" style="font-family:'Liberation Sans',Arial,sans-serif;font-size:15px" fill="#000" stroke="#000" stroke-width="0.15">20</text>
<text transform="translate(493.1 381.2) scale(0.96 1.02)" text-anchor="middle" style="font-family:'Liberation Sans',Arial,sans-serif;font-size:15px" fill="#000" stroke="#000" stroke-width="0.15">30</text>
<text x="281" y="409.4" text-anchor="middle" style="font-family:'Liberation Serif','Times New Roman',serif;font-size:17.5px" fill="#000" stroke="#000" stroke-width="0.25">Position (mm)</text>
<text transform="translate(22.0,187.5) rotate(-90) scale(1 0.93)" text-anchor="middle" style="font-family:'Liberation Serif','Times New Roman',serif;font-size:17.6px" fill="#000" stroke="#000" stroke-width="0.25">Thickness (mm)</text>
<text x="86.8" y="225.6" style="font-family:'Liberation Serif','Times New Roman',serif;font-size:14.5px" fill="#000" stroke="#000" stroke-width="0.2">A<tspan dy="3.6" style="font-size:11px">1</tspan></text>
<text x="166.6" y="224.4" style="font-family:'Liberation Serif','Times New Roman',serif;font-size:14.5px" fill="#000" stroke="#000" stroke-width="0.2">B<tspan dy="3.6" style="font-size:11px">1</tspan></text>
<text x="204.6" y="224.8" style="font-family:'Liberation Serif','Times New Roman',serif;font-size:14.5px" fill="#000" stroke="#000" stroke-width="0.2">C<tspan dy="3.6" style="font-size:11px">1</tspan></text>
<text x="279.6" y="226.0" style="font-family:'Liberation Serif','Times New Roman',serif;font-size:14.5px" fill="#000" stroke="#000" stroke-width="0.2">C<tspan dy="3.6" style="font-size:11px">2</tspan></text>
<text x="324.0" y="226.9" style="font-family:'Liberation Serif','Times New Roman',serif;font-size:14.5px" fill="#000" stroke="#000" stroke-width="0.2">B<tspan dy="3.6" style="font-size:11px">2</tspan></text>
<text x="401.4" y="229.0" style="font-family:'Liberation Serif','Times New Roman',serif;font-size:14.5px" fill="#000" stroke="#000" stroke-width="0.2">A<tspan dy="3.6" style="font-size:11px">2</tspan></text>
<text x="434" y="251.8" style="font-family:'Liberation Serif','Times New Roman',serif;font-size:13.6px" fill="#000" stroke="#000" stroke-width="0.2">Upper part</text>
<text x="434" y="317.4" style="font-family:'Liberation Serif','Times New Roman',serif;font-size:13.6px" fill="#000" stroke="#000" stroke-width="0.2">Lower part</text>
<rect x="419.6" y="147.6" width="122.4" height="47.6" fill="#fff" stroke="#777" stroke-width="1"/>
<line x1="420.9" y1="155.6" x2="449.4" y2="155.6" stroke="#3c3c3c" stroke-width="1.5"/>
<polygon points="434.7,150.6 429.9,158.7 439.5,158.7" fill="#3c3c3c"/>
<line x1="420.9" y1="170.9" x2="449.4" y2="170.9" stroke="#f83232" stroke-width="1.6"/>
<circle cx="434.7" cy="170.9" r="3.7" fill="#f83232"/>
<line x1="420.6" y1="186.5" x2="446" y2="186.5" stroke="#0a6cf0" stroke-width="1.7" stroke-dasharray="3.9 3"/>
<ellipse cx="435.2" cy="186.4" rx="3.3" ry="3.7" fill="#fff" stroke="#5050c8" stroke-width="1.1"/>
<text x="451.8" y="159.3" style="font-family:'Liberation Serif','Times New Roman',serif;font-size:12.4px" fill="#000" stroke="#000" stroke-width="0.2">Simul.</text>
<text x="451.8" y="174.7" style="font-family:'Liberation Serif','Times New Roman',serif;font-size:12.4px" fill="#000" stroke="#000" stroke-width="0.2">Exp. (Upper part)</text>
<text x="451.8" y="190.2" style="font-family:'Liberation Serif','Times New Roman',serif;font-size:12.4px" fill="#000" stroke="#000" stroke-width="0.2">Exp. (Lower part)</text>
</svg>
</body></html>
